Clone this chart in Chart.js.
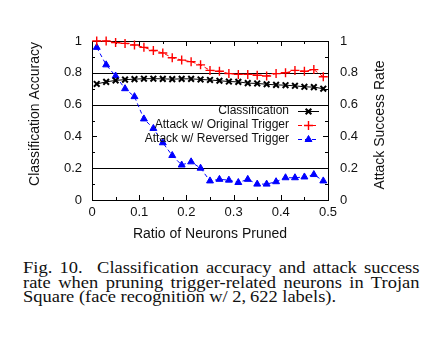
<!DOCTYPE html>
<html>
<head>
<meta charset="utf-8">
<script src="https://cdn.jsdelivr.net/npm/chart.js@4/dist/chart.umd.min.js"></script>
<style>
  html, body { margin: 0; padding: 0; background: #fff; }
  #wrap { position: relative; width: 440px; height: 338px; overflow: hidden; }
  #chart { position: absolute; left: 0; top: 0; }
  .cap { position: absolute; left: 23px; width: 354px; font: 16.5px "Liberation Serif", "Times New Roman", serif; color: #111; line-height: 15px; white-space: nowrap; transform: scaleX(1.12); transform-origin: 0 0; }
  .just { text-align: justify; text-align-last: justify; }
</style>
</head>
<body>
<div id="wrap">
  <canvas id="chart" width="440" height="250"></canvas>
  <div class="cap just" style="top:260px">Fig. 10.&nbsp; Classification accuracy and attack success</div>
  <div class="cap just" style="top:275px">rate when pruning trigger-related neurons in Trojan</div>
  <div class="cap" style="top:289px">Square (face recognition w/ 2,&#8201;622 labels).</div>
</div>
<script>
// ratio of neurons pruned
const ratios = [0.01, 0.03, 0.05, 0.07, 0.09, 0.11, 0.13, 0.15, 0.17, 0.19, 0.21, 0.23, 0.25,
                0.27, 0.29, 0.31, 0.33, 0.35, 0.37, 0.39, 0.41, 0.43, 0.45, 0.47, 0.49];
const classification = [0.73, 0.743, 0.752, 0.757, 0.76, 0.763, 0.763, 0.762, 0.76, 0.762, 0.762, 0.758, 0.755,
                        0.75, 0.745, 0.743, 0.735, 0.733, 0.728, 0.724, 0.722, 0.718, 0.712, 0.71, 0.70];
const originalTrigger = [1.0, 1.0, 0.99, 0.985, 0.975, 0.96, 0.94, 0.925, 0.895, 0.88, 0.87, 0.85, 0.815,
                         0.81, 0.795, 0.79, 0.79, 0.785, 0.78, 0.795, 0.80, 0.815, 0.81, 0.82, 0.775];
const reversedTrigger = [0.96, 0.85, 0.78, 0.70, 0.65, 0.51, 0.45, 0.36, 0.28, 0.22, 0.24, 0.20, 0.12,
                         0.13, 0.125, 0.11, 0.13, 0.10, 0.10, 0.115, 0.14, 0.14, 0.145, 0.16, 0.12];
const seriesNames = ['Classification', 'Attack w/ Original Trigger', 'Attack w/ Reversed Trigger'];
const xTicks = [0, 0.1, 0.2, 0.3, 0.4, 0.5];
const yTicks = [0, 0.2, 0.4, 0.6, 0.8, 1];
const gridLines = [0.2, 0.6, 0.8];

const FONT = '"Liberation Sans", Arial, sans-serif';
const toPoints = ys => ratios.map((r, i) => ({ x: r, y: ys[i] }));
const setTicks = vals => scale => { scale.ticks = vals.map(v => ({ value: v })); };
const fmt = v => String(+(+v).toFixed(2));

// midpoints between major ticks, for the short inward tick marks
const minorOf = vals => vals.slice(1).map((v, i) => (v + vals[i]) / 2);

const framePlugin = {
  id: 'frame',
  beforeDatasetsDraw(chart) {
    const ctx = chart.ctx;
    const { left, right, top, bottom } = chart.chartArea;
    const xs = chart.scales.x, ys = chart.scales.y;
    ctx.save();
    ctx.strokeStyle = '#000';
    ctx.lineWidth = 1;
    ctx.beginPath();
    gridLines.forEach(v => {
      const py = Math.round(ys.getPixelForValue(v)) + 0.5;
      ctx.moveTo(left, py); ctx.lineTo(right, py);
    });
    // y ticks, both sides
    const yt = (v, len) => {
      const py = Math.round(ys.getPixelForValue(v)) + 0.5;
      ctx.moveTo(left, py); ctx.lineTo(left + len, py);
      ctx.moveTo(right, py); ctx.lineTo(right - len, py);
    };
    yTicks.forEach(v => yt(v, 5));
    minorOf(yTicks).forEach(v => yt(v, 3));
    const xt = (v, len) => {
      const px = Math.round(xs.getPixelForValue(v)) + 0.5;
      ctx.moveTo(px, bottom); ctx.lineTo(px, bottom - len);
      ctx.moveTo(px, top); ctx.lineTo(px, top + len);
    };
    xTicks.forEach(v => xt(v, 5));
    minorOf(xTicks).forEach(v => xt(v, 3));
    ctx.stroke();
    ctx.strokeRect(Math.round(left) + 0.5, Math.round(top) + 0.5, Math.round(right - left), Math.round(bottom - top));
    ctx.restore();
  },
  afterDraw(chart) {
    const ctx = chart.ctx;
    ctx.save();
    // legend: text right aligned, sample on the right
    ctx.font = '12px ' + FONT;
    ctx.textAlign = 'right';
    ctx.textBaseline = 'middle';
    chart.data.datasets.forEach((ds, i) => {
      const y = 111 + i * 14;
      ctx.fillStyle = '#111';
      ctx.fillText(ds.label, 289, y);
      ctx.strokeStyle = ds.borderColor;
      ctx.lineWidth = 1;
      ctx.setLineDash(ds.borderDash || []);
      ctx.beginPath(); ctx.moveTo(298, y + 0.5); ctx.lineTo(319, y + 0.5); ctx.stroke();
      ctx.setLineDash([]);
      ctx.fillStyle = ds.pointBackgroundColor;
      ctx.strokeStyle = ds.pointBorderColor;
      ctx.lineWidth = ds.pointBorderWidth;
      Chart.helpers.drawPoint(ctx, { pointStyle: ds.pointStyle, radius: ds.pointRadius, borderWidth: ds.pointBorderWidth, rotation: 0 }, 308.5, y + 0.5);
    });
    // y axis titles, both read bottom to top
    ctx.fillStyle = '#111';
    ctx.font = '14px ' + FONT;
    ctx.textAlign = 'center';
    ctx.translate(35, 114); ctx.rotate(-Math.PI / 2);
    ctx.fillText('Classification Accuracy', 0, 0);
    ctx.setTransform(1, 0, 0, 1, 0, 0);
    ctx.translate(380, 125); ctx.rotate(-Math.PI / 2);
    ctx.fillText('Attack Success Rate', 0, 0);
    ctx.restore();
  }
};

const tickFont = { family: FONT, size: 13 };

new Chart(document.getElementById('chart'), {
  type: 'line',
  data: {
    datasets: [
      {
        label: seriesNames[0], data: toPoints(classification),
        borderColor: '#000', borderWidth: 1,
        pointStyle: 'crossRot', pointRadius: 4, pointBorderWidth: 2,
        pointBorderColor: '#000', pointBackgroundColor: '#000', clip: false
      },
      {
        label: seriesNames[1], data: toPoints(originalTrigger),
        borderColor: '#ff0000', borderWidth: 1, borderDash: [4, 3],
        pointStyle: 'cross', pointRadius: 4.5, pointBorderWidth: 1.4,
        pointBorderColor: '#ff0000', pointBackgroundColor: '#ff0000', clip: false
      },
      {
        label: seriesNames[2], data: toPoints(reversedTrigger),
        borderColor: '#0000ff', borderWidth: 1, borderDash: [4, 3],
        pointStyle: 'triangle', pointRadius: 4, pointBorderWidth: 1,
        pointBorderColor: '#0000ff', pointBackgroundColor: '#0000ff', clip: false
      }
    ]
  },
  options: {
    responsive: false,
    animation: false,
    layout: { padding: { top: 41, left: 0, right: 0, bottom: 0 } },
    plugins: { legend: { display: false }, tooltip: { enabled: false } },
    scales: {
      x: {
        type: 'linear', min: 0, max: 0.5,
        grid: { display: false, drawTicks: false }, border: { display: false },
        afterBuildTicks: setTicks(xTicks),
        afterFit: s => { s.height = 50; },
        ticks: { font: tickFont, color: '#111', padding: 5, callback: fmt },
        title: { display: true, text: 'Ratio of Neurons Pruned', color: '#111',
                 font: { family: FONT, size: 14 }, padding: { top: 0, bottom: 7 } }
      },
      y: {
        position: 'left', min: 0, max: 1,
        grid: { display: false, drawTicks: false }, border: { display: false },
        afterBuildTicks: setTicks(yTicks),
        afterFit: s => { s.width = 92; },
        ticks: { font: tickFont, color: '#111', padding: 10, callback: fmt }
      },
      y2: {
        position: 'right', min: 0, max: 1, display: true,
        grid: { display: false, drawTicks: false }, border: { display: false },
        afterBuildTicks: setTicks(yTicks),
        afterFit: s => { s.width = 112; },
        ticks: { font: tickFont, color: '#111', padding: 12, callback: fmt }
      }
    }
  },
  plugins: [framePlugin]
});
</script>
</body>
</html>
